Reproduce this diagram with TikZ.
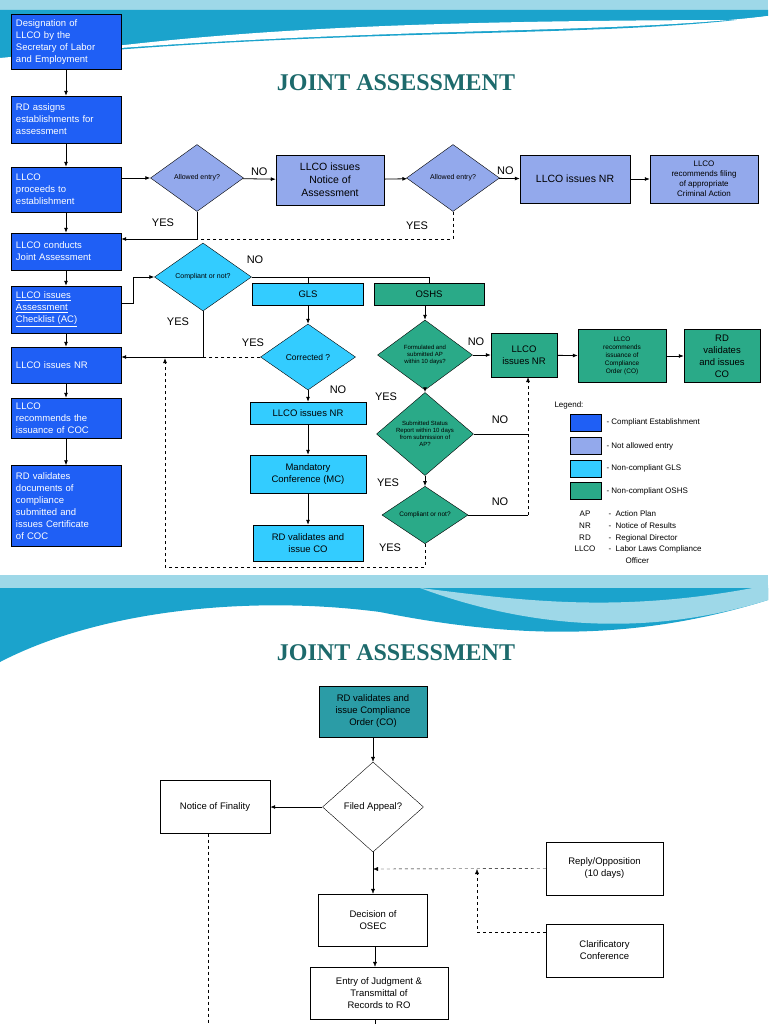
\documentclass[tikz,border=0pt]{standalone}
\usepackage{fontspec}
\setmainfont{Liberation Sans}
\newfontfamily\titlefont{Liberation Serif}
\usetikzlibrary{arrows.meta, positioning, shapes.geometric}
\definecolor{compblue}{HTML}{1F5FF5}
\definecolor{entryblue}{HTML}{93A9EC}
\definecolor{glscyan}{HTML}{33CCFF}
\definecolor{oshsgreen}{HTML}{2AAA88}
\definecolor{coteal}{HTML}{2B9CA6}
\definecolor{titleteal}{HTML}{1D6A6C}
\definecolor{wavedark}{HTML}{1BA3CC}
\definecolor{wavelight}{HTML}{9ED8E8}
\tikzset{
  box/.style={draw, rectangle, inner sep=2pt, font=\fontsize{9.5}{12}\selectfont},
  cbox/.style={box, fill=compblue, text=white, align=left},
  ebox/.style={box, fill=entryblue, align=center},
  gbox/.style={box, fill=glscyan, align=center},
  obox/.style={box, fill=oshsgreen, align=center},
  wbox/.style={box, fill=white, align=center},
  dec/.style={draw, diamond, inner sep=0pt, align=center, font=\fontsize{7}{8.5}\selectfont},
  lbl/.style={font=\fontsize{11}{12}\selectfont},
  flow/.style={-{Latex[length=5pt,width=4pt]}, thick},
  title/.style={text=titleteal, font=\titlefont\bfseries\fontsize{24}{26}\selectfont},
}
\begin{document}
\begin{tikzpicture}[x=1pt, y=-1pt]
    \useasboundingbox (0,0) rectangle (768,1024);
    % banners
    \fill[wavelight] (0,0) rectangle (768,10);
    \fill[wavedark] (0,10) -- (768,10) -- (768,16) .. controls (600,40) and (350,25) .. (0,60) -- cycle;
    \fill[white] (0,62) .. controls (200,30) and (400,20) .. (768,20) -- (768,16) .. controls (600,36) and (350,25) .. (0,58) -- cycle;
    \fill[wavelight] (0,575) rectangle (768,588);
    \fill[wavedark] (0,588) -- (768,588) -- (768,600) .. controls (640,640) and (520,640) .. (380,612) .. controls (250,595) and (100,610) .. (0,662) -- cycle;
    \fill[wavelight] (420,588) .. controls (520,600) and (620,615) .. (768,585) -- (768,600) .. controls (640,640) and (520,625) .. (420,588) -- cycle;

    \node (t1) at (396,83) [title] {JOINT ASSESSMENT};
    \node (t2) at (396,653) [title] {JOINT ASSESSMENT};

    % compliant column
    \node (desig) at (66,42) [cbox, minimum width=110, minimum height=55, text width=100] {Designation of\\LLCO by the\\Secretary of Labor\\and Employment};
    \node (assign) at (66,119.5) [cbox, minimum width=110, minimum height=47, text width=100] {RD assigns\\establishments for\\assessment};
    \node (proceed) at (66,189.5) [cbox, minimum width=110, minimum height=45, text width=100] {LLCO\\proceeds to\\establishment};
    \node (conduct) at (66,251.5) [cbox, minimum width=110, minimum height=37, text width=100] {LLCO conducts\\Joint Assessment};
    \node (check) at (66,309.5) [cbox, minimum width=110, minimum height=47, text width=100] {\underline{LLCO issues}\\\underline{Assessment}\\\underline{Checklist (AC)}};
    \node (nr) at (66,365) [cbox, minimum width=110, minimum height=36, text width=100] {LLCO issues NR};
    \node (coc) at (66,418) [cbox, minimum width=110, minimum height=40, text width=100] {LLCO\\recommends the\\issuance of COC};
    \node (valid) at (66,506) [cbox, minimum width=110, minimum height=81, text width=100] {RD validates\\documents of\\compliance\\submitted and\\issues Certificate\\of COC};

    % entry row
    \node (entry1) at (197,178) [dec, fill=entryblue, minimum width=93, minimum height=67] {Allowed entry?};
    \node (noa) at (330,180) [ebox, minimum width=108, minimum height=50, font=\fontsize{10.5}{13}\selectfont] {LLCO issues\\Notice of\\Assessment};
    \node (entry2) at (453,178) [dec, fill=entryblue, minimum width=93, minimum height=67] {Allowed entry?};
    \node (nr2) at (575,179) [ebox, minimum width=110, minimum height=48, font=\fontsize{10.5}{13}\selectfont] {LLCO issues NR};
    \node (crim) at (704,179) [ebox, minimum width=108, minimum height=48, font=\fontsize{8}{10}\selectfont] {LLCO\\recommends filing\\of appropriate\\Criminal Action};

    % compliance check
    \node (comp) at (203,277) [dec, fill=glscyan, minimum width=97, minimum height=68] {Compliant or not?};
    \node (gls) at (308,294) [gbox, minimum width=111, minimum height=22] {GLS};
    \node (oshs) at (429,294) [obox, minimum width=110, minimum height=22] {OSHS};

    % GLS branch
    \node (corr) at (308,357) [dec, fill=glscyan, minimum width=95, minimum height=66, font=\fontsize{8.5}{10}\selectfont] {Corrected ?};
    \node (nr3) at (308,413) [gbox, minimum width=116, minimum height=22] {LLCO issues NR};
    \node (mc) at (308,474) [gbox, minimum width=116, minimum height=38] {Mandatory\\Conference (MC)};
    \node (co1) at (308,543) [gbox, minimum width=110, minimum height=36] {RD validates and\\issue CO};

    % OSHS branch
    \node (ap) at (425,355) [dec, fill=oshsgreen, minimum width=95, minimum height=70, font=\fontsize{6}{7}\selectfont] {Formulated and\\submitted AP\\within 10 days?};
    \node (stat) at (425,434) [dec, fill=oshsgreen, minimum width=97, minimum height=70, font=\fontsize{6}{7}\selectfont] {Submitted Status\\Report within 10 days\\from submission of\\AP?};
    \node (comp2) at (425,515) [dec, fill=oshsgreen, minimum width=86, minimum height=57, font=\fontsize{6.5}{8}\selectfont] {Compliant or not?};
    \node (nr4) at (524,355) [obox, minimum width=66, minimum height=44] {LLCO\\issues NR};
    \node (rec) at (622,356) [obox, minimum width=88, minimum height=53, font=\fontsize{6.5}{8}\selectfont] {LLCO\\recommends\\issuance of\\Compliance\\Order (CO)};
    \node (co2) at (722,356) [obox, minimum width=76, minimum height=53] {RD\\validates\\and issues\\CO};

    % legend
    \node (leg) at (551,405) [anchor=west, font=\fontsize{8}{10}\selectfont] {Legend:};
    \foreach \y/\c/\t in {422.5/compblue/Compliant Establishment, 446/entryblue/Not allowed entry, 468.5/glscyan/Non-compliant GLS, 491/oshsgreen/Non-compliant OSHS} {
        \node (sw\c) at (585.5,\y) [draw, fill=\c, minimum width=31, minimum height=17, inner sep=0pt] {};
        \node at (603,\y) [anchor=west, font=\fontsize{8}{10}\selectfont] {- \t};
    }
    \foreach \y/\a/\t in {514/AP/Action Plan, 526/NR/Notice of Results, 538/RD/Regional Director, 549/LLCO/Labor Laws Compliance} {
        \node at (585,\y) [font=\fontsize{8}{10}\selectfont] {\a};
        \node at (605,\y) [anchor=west, font=\fontsize{8}{10}\selectfont] {-\ \ \t};
    }
    \node at (622,561) [anchor=west, font=\fontsize{8}{10}\selectfont] {Officer};

    % connectors, left column
    \draw [flow] (desig) -- (assign);
    \draw [flow] (assign) -- (proceed);
    \draw [flow] (proceed) -- (conduct);
    \draw [flow] (conduct) -- (check);
    \draw [flow] (check) -- (nr);
    \draw [flow] (nr) -- (coc);
    \draw [flow] (coc) -- (valid);
    \draw [flow] (proceed.east |- entry1) -- (entry1);
    \draw [flow] (entry1) -- (noa) node [lbl, midway, above] {NO};
    \draw [flow] (noa) -- (entry2);
    \draw [flow] (entry2) -- (nr2) node [lbl, pos=0.3, above] {NO};
    \draw [flow] (nr2) -- (crim);
    \draw [flow] (entry1.south) -- (197,239) -- (conduct.east |- 0,239);
    \draw [thick, dashed] (entry2.south) -- (453,239) -- (197,239);
    \node at (163,223) [lbl] {YES};
    \node at (417,226) [lbl] {YES};

    % compliance check
    \draw [flow] (check.east |- 0,303) -- (133,303) -- (133,277) -- (comp);
    \draw [thick] (comp.east) -- (429,277);
    \node at (255,260) [lbl] {NO};
    \draw [thick] (308,277) -- (gls.north);
    \draw [thick] (429,277) -- (oshs.north);
    \draw [flow] (comp.south) -- (203,357) -- (nr.east |- 0,357);
    \node at (178,322) [lbl] {YES};
    \draw [thick, dashed] (corr.west) -- (203,357);
    \node at (253,343) [lbl] {YES};
    \draw [flow] (gls) -- (corr);
    \draw [flow] (corr) -- (nr3);
    \node at (338,390) [lbl] {NO};
    \draw [flow] (nr3) -- (mc);
    \draw [flow] (mc) -- (co1);

    % OSHS connectors
    \draw [flow] (oshs.south -| ap) -- (ap);
    \draw [flow] (ap) -- (nr4);
    \node at (476,342) [lbl] {NO};
    \draw [flow] (ap) -- (stat);
    \node at (386,397) [lbl] {YES};
    \draw [flow] (stat) -- (comp2);
    \node at (388,483) [lbl] {YES};
    \draw [thick] (stat.east) -- (528,434);
    \node at (500,420) [lbl] {NO};
    \draw [thick] (comp2.east) -- (528,515);
    \node at (500,502) [lbl] {NO};
    \draw [flow, dashed] (528,515) -- (528,377);
    \draw [flow] (nr4) -- (rec);
    \draw [flow] (rec) -- (co2);
    \draw [flow, dashed] (comp2.south) -- (425,567) -- (165,567) -- (165,358);
    \node at (390,548) [lbl] {YES};

    % second chart
    \node (co3) at (373,711.5) [box, fill=coteal, minimum width=108, minimum height=51, align=center] {RD validates and\\issue Compliance\\Order (CO)};
    \node (appeal) at (373,807) [dec, draw, fill=white, minimum width=101, minimum height=90, font=\fontsize{9.5}{11}\selectfont] {Filed Appeal?};
    \node (final) at (215,807) [wbox, minimum width=110, minimum height=53] {Notice of Finality};
    \node (reply) at (604.5,868.5) [wbox, minimum width=117, minimum height=53] {Reply/Opposition\\(10 days)};
    \node (clar) at (604.5,950.5) [wbox, minimum width=117, minimum height=53] {Clarificatory\\Conference};
    \node (osec) at (373,920) [wbox, minimum width=109, minimum height=52] {Decision of\\OSEC};
    \node (judg) at (379,993) [wbox, minimum width=138, minimum height=52] {Entry of Judgment \&\\Transmittal of\\Records to RO};
    \coordinate (bot) at (375,1024);
    \coordinate (fbot) at (208,1024);

    \draw [-{Latex[length=5pt,width=4pt]}] (co3) -- (appeal);
    \draw [-{Latex[length=5pt,width=4pt]}, thick] (appeal) -- (final);
    \draw [-{Latex[length=5pt,width=4pt]}] (appeal) -- (osec);
    \draw [-{Latex[length=5pt,width=4pt]}, dashed] (reply.west) -- (373,869);
    \draw [-{Latex[length=5pt,width=4pt]}, dashed] (clar.west |- 0,932) -- (477,932) -- (477,869);
    \draw [-{Latex[length=5pt,width=4pt]}] (osec.south -| 375,0) -- (judg.north -| 375,0);
    \draw (judg.south -| bot) -- (bot);
    \draw [dashed] (final.south -| fbot) -- (fbot);
\end{tikzpicture}
\end{document}
